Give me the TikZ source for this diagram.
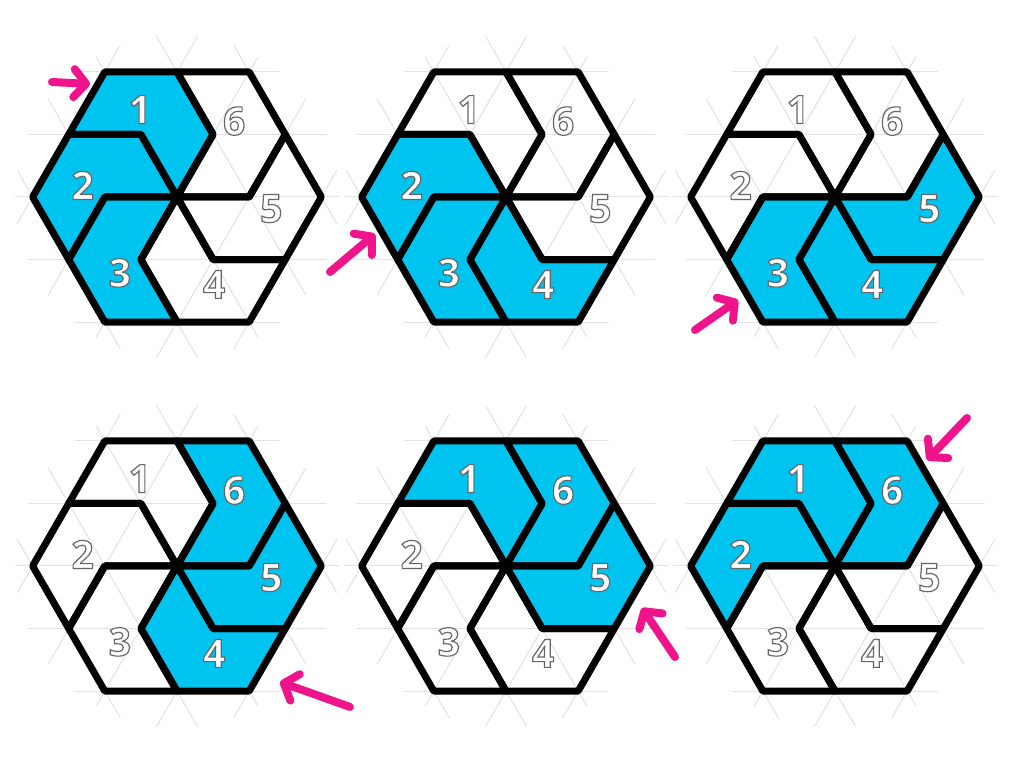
\documentclass[tikz,border=0pt]{standalone}
\usepackage{fontspec}
\newfontfamily\digitfont{Open Sans}[FakeBold=3]
\usetikzlibrary{arrows.meta}
\definecolor{pieceblue}{RGB}{0,196,240}
\definecolor{arrowpink}{RGB}{240,20,140}
\definecolor{gridgray}{RGB}{226,226,226}
\newcommand\odigit[1]{\special{pdf:bcolor [1] [0.4]}\digitfont\bfseries #1\special{pdf:ecolor}}
\tikzset{
  piecefill/.style={fill=pieceblue},
  pieceline/.style={draw=black, line width=7pt, line join=round},
  gridline/.style={draw=gridgray, line width=1pt},
  digit/.style={font=\fontsize{39}{39}\selectfont, inner sep=0pt},
  pinkarrow/.style={draw=arrowpink, line width=8pt, line cap=round,
    -{Straight Barb[length=12pt,width=28pt,round]}},
}
\newcommand\hexpanel[3]{%
  \begin{scope}[shift={#2}]
    \coordinate (#1) at (0,0);
    \begin{scope}
      \clip (0,0) circle (162);
      \foreach \k in {-4,...,4}{
        \draw[gridline] (-200,\k*62.53) -- (200,\k*62.53);
        \draw[gridline] (\k*72.2-125,-216.5) -- (\k*72.2+125,216.5);
        \draw[gridline] (\k*72.2+125,-216.5) -- (\k*72.2-125,216.5);
      }
    \end{scope}
    \foreach \k in {1,...,6}{
      \pgfmathsetmacro\t{(\k-1)*60}
      \pgfmathtruncatemacro\d{mod(\k-#3+6,6)}
      \ifnum\d<3
        \fill[piecefill] ({120+\t}:144.4) -- ({90+\t}:125.05) -- ({60+\t}:72.2) -- (0,0)
          -- ({120+\t}:72.2) -- ({150+\t}:125.05) -- cycle;
      \fi
    }
    \foreach \k in {1,...,6}{
      \pgfmathsetmacro\t{(\k-1)*60}
      \draw[pieceline] ({120+\t}:144.4) -- ({90+\t}:125.05) -- ({60+\t}:72.2) -- (0,0)
        -- ({120+\t}:72.2) -- ({150+\t}:125.05) -- cycle;
    }
    \foreach \k in {1,...,6}{
      \pgfmathsetmacro\t{(\k-1)*60}
      \node[digit] (#1-l\k) at ({113+\t}:95) {\odigit{\k}};
    }
  \end{scope}
}
\begin{document}
\begin{tikzpicture}[x=1pt,y=1pt]
  \fill[white] (0,0) rectangle (1024,768);
  \useasboundingbox (0,0) rectangle (1024,768);
  \hexpanel{h1}{(177,571)}{1}
  \hexpanel{h2}{(506,571)}{2}
  \hexpanel{h3}{(835,571)}{3}
  \hexpanel{h4}{(177,202)}{4}
  \hexpanel{h5}{(506,202)}{5}
  \hexpanel{h6}{(835,202)}{6}
  \coordinate (a1s) at (52,686);  \coordinate (a1e) at (90,684);
  \coordinate (a2s) at (330,496); \coordinate (a2e) at (375,534);
  \coordinate (a3s) at (695,438); \coordinate (a3e) at (738,468);
  \coordinate (a4s) at (350,61);  \coordinate (a4e) at (280,86);
  \coordinate (a5s) at (675,111); \coordinate (a5e) at (642,160);
  \coordinate (a6s) at (967,350); \coordinate (a6e) at (927,308);
  \draw[pinkarrow] (a1s) -- (a1e);
  \draw[pinkarrow] (a2s) -- (a2e);
  \draw[pinkarrow] (a3s) -- (a3e);
  \draw[pinkarrow] (a4s) -- (a4e);
  \draw[pinkarrow] (a5s) -- (a5e);
  \draw[pinkarrow] (a6s) -- (a6e);
\end{tikzpicture}
\end{document}
